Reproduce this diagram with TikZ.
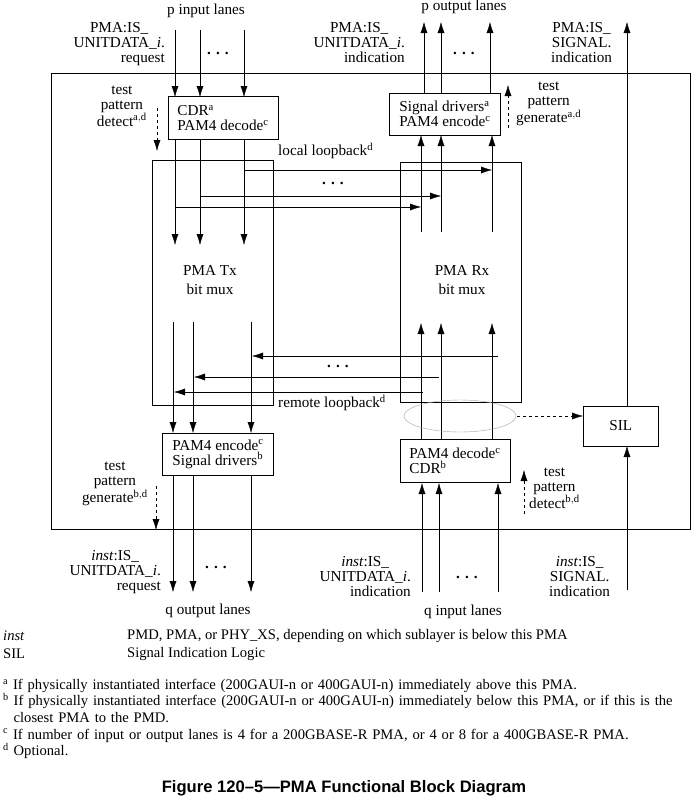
\documentclass[tikz,border=0pt]{standalone}
\usepackage{fontspec}
\setmainfont{Liberation Serif}
\newfontfamily\hsans{Liberation Sans}
\usetikzlibrary{arrows.meta}
\begin{document}
\begin{tikzpicture}[x=1pt,y=-1pt,
  every node/.style={font=\fontsize{15.2}{15}\selectfont,inner sep=1pt},
  ar/.style={-{Latex[length=11pt,width=7pt]}},
  dar/.style={dashed,-{Latex[length=11pt,width=7pt]}},
  box/.style={draw,fill=white,inner sep=2pt},
  lab/.style={align=center,font=\fontsize{15.2}{15}\selectfont},
  foot/.style={anchor=west,font=\fontsize{14.6}{16.6}\selectfont,align=left}]
\useasboundingbox[fill=white] (0,0) rectangle (694,803);
% outer
\draw (51,73) rectangle (690,529);
% Tx, Rx
\draw (152,160) rectangle (273,405);
\draw (400,162) rectangle (521,402);
\node (txl) at (210,280) [align=center] {PMA Tx\\[4pt]bit mux};
\node (rxl) at (462,280) [align=center] {PMA Rx\\[4pt]bit mux};
% top boxes
\node[box,minimum width=110,minimum height=43,align=left] (cdr) at (223,118) {CDR$^{\mathrm a}$\\PAM4 decode$^{\mathrm c}$};
\node[box,minimum width=111,minimum height=42,align=left] (sd) at (445,114) {Signal drivers$^{\mathrm a}$\\PAM4 encode$^{\mathrm c}$};
\node[box,minimum width=111,minimum height=42,align=left] (enc) at (218,454) {PAM4 encode$^{\mathrm c}$\\Signal drivers$^{\mathrm b}$};
\node[box,minimum width=110,minimum height=43,align=left] (dec) at (455,461) {PAM4 decode$^{\mathrm c}$\\CDR$^{\mathrm b}$};
\node[box,minimum width=75,minimum height=40,anchor=west] (sil) at (583,426) {SIL\hspace{30pt}};
% input lanes top
\foreach \x in {175,200,244} \draw[ar] (\x,30) -- (\x,97);
\node (pin) at (206,11) {p input lanes};
\node at (218,53) {\textbf{. . .}};
\node[lab,anchor=east] (pmareq) at (166,44) {\hfill PMA:IS\_\\UNITDATA\_\textit{i}.\\\hfill request};
% CDR -> Tx
\foreach \x in {175,200,244} \draw[ar] (\x,140) -- (\x,245);
% Rx -> signal drivers
\foreach \x in {421,441,492} \draw[ar] (\x,232) -- (\x,135);
\foreach \x in {424,441,490} \draw[ar] (\x,93) -- (\x,22);
\node (pout) at (464,7) {p output lanes};
\node at (464,53) {\textbf{. . .}};
\node[lab,anchor=east] (pmaind) at (406,43) {\hfill PMA:IS\_\\UNITDATA\_\textit{i}.\\\hfill indication};
% local loopback
\draw[ar] (244,170) -- (492,170);
\draw[ar] (200,196) -- (441,196);
\draw[ar] (175,207) -- (421,207);
\node at (333,183) {\textbf{. . .}};
\node[anchor=west] (ll) at (277,151) {local loopback$^{\mathrm d}$};
% remote loopback
\foreach \x in {421,441,492} \draw[ar] (\x,440) -- (\x,323);
\draw[ar] (498,356) -- (252,356);
\draw[ar] (439,377) -- (194,377);
\draw[ar] (423,392) -- (174,392);
\node at (338,366) {\textbf{. . .}};
\node[anchor=west] (rl) at (277,403) {remote loopback$^{\mathrm d}$};
% Tx -> encode
\foreach \x in {173,193,251} \draw[ar] (\x,322) -- (\x,433);
\foreach \x in {173,193,251} \draw[ar] (\x,475) -- (\x,592);
\node at (216,567) {\textbf{. . .}};
\node (qout) at (208,611) {q output lanes};
\node[lab,anchor=east] (instreq) at (162,572) {\hfill\textit{inst}:IS\_\\UNITDATA\_\textit{i}.\\\hfill request};
% q input
\foreach \x in {422,439,498} \draw[ar] (\x,592) -- (\x,483);
\node at (467,577) {\textbf{. . .}};
\node (qin) at (463,612) {q input lanes};
\node[lab,anchor=east] (instind) at (412,577) {\hfill\textit{inst}:IS\_\\UNITDATA\_\textit{i}.\\\hfill indication};
% ellipse & SIL
\draw[gray!70] (460,416) ellipse (56 and 16);
\coordinate (ee) at (517,416);
\draw[dar] (ee) -- (ee -| sil.west);
\draw[ar] (627,406) -- (627,22);
\draw[ar] (627,590) -- (627,446);
\node[lab,anchor=west] (sigt) at (550,43) {PMA:IS\_\\SIGNAL.\\indication};
\node[lab,anchor=west] (sigb) at (548,577) {\textit{inst}:IS\_\\SIGNAL.\\indication};
% test pattern
\draw[dar] (157,108) -- (157,151);
\node[lab,anchor=east] at (148,106) {\hfill test\\\hfill pattern\\detect$^{\mathrm{a,d}}$};
\draw[dar] (508,128) -- (508,85);
\node[lab,anchor=west] at (515,104) {test\\pattern\\generate$^{\mathrm{a,d}}$};
\draw[dar] (156,486) -- (156,530);
\node[lab,anchor=east] at (149,484) {\hfill test\\\hfill pattern\\generate$^{\mathrm{b,d}}$};
\draw[dar] (524,514) -- (524,470);
\node[lab,anchor=west] at (528,488) {test\\pattern\\detect$^{\mathrm{b,d}}$};
% footnotes
\node[foot] at (2,636) {\textit{inst}};
\node[foot] at (126,636) {PMD, PMA, or PHY\_XS, depending on which sublayer is below this PMA};
\node[foot] at (2,654) {SIL};
\node[foot] at (126,654) {Signal Indication Logic};
\node[foot,text width=690] at (2,719) {$^{\mathrm a}$ If physically instantiated interface (200GAUI-n or 400GAUI-n) immediately above this PMA.\\
$^{\mathrm b}$ If physically instantiated interface (200GAUI-n or 400GAUI-n) immediately below this PMA, or if this is the\\
\phantom{$^{\mathrm b}$ }closest PMA to the PMD.\\
$^{\mathrm c}$ If number of input or output lanes is 4 for a 200GBASE-R PMA, or 4 or 8 for a 400GBASE-R PMA.\\
$^{\mathrm d}$ Optional.};
\node (title) at (344,788) {\hsans\bfseries\fontsize{16.6}{17}\selectfont Figure 120–5—PMA Functional Block Diagram};
\end{tikzpicture}
\end{document}
